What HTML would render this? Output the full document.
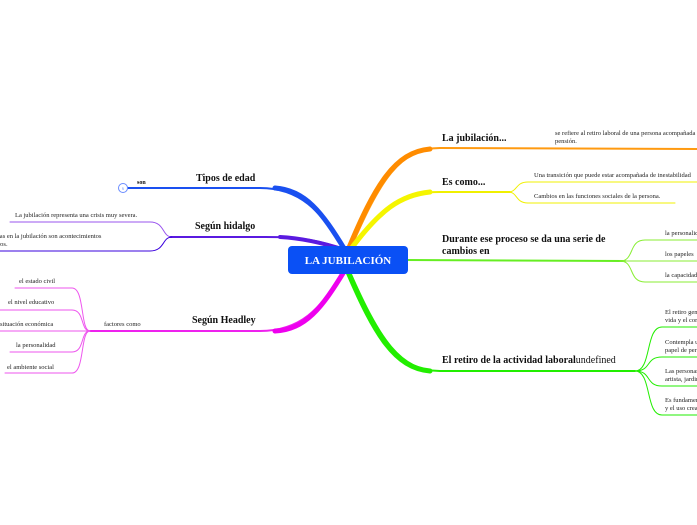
<!DOCTYPE html>
<html><head><meta charset="utf-8"><style>
body{margin:0;width:697px;height:520px;overflow:hidden;background:#fff;}
svg text{font-family:"Liberation Serif",serif;}
.b{font-weight:bold;font-size:10px;fill:#111;}
.s{font-size:6.5px;fill:#222;}
</style></head><body>
<svg width="697" height="520" viewBox="0 0 697 520" xmlns="http://www.w3.org/2000/svg">
<g fill="none" stroke-linecap="round">
<!-- orange -->
<path d="M350 250 C380 180 400 148 440 148 L697 149" stroke="#ff9a10" stroke-width="2"/>
<path d="M348 250 C375 185 395 152 430 149" stroke="#ff8c00" stroke-width="5"/>
<!-- yellow -->
<path d="M352 250 C385 205 405 192 440 192 L510 192" stroke="#f0f000" stroke-width="2"/>
<path d="M350 250 C380 210 400 195 430 192" stroke="#f5f500" stroke-width="5"/>
<path d="M508 192 C518 192 515 182 528 182 L697 182" stroke="#f0f000" stroke-width="1"/>
<path d="M508 192 C518 192 515 203 528 203 L675 203" stroke="#f0f000" stroke-width="1"/>
<!-- green durante -->
<path d="M405 260 L625 261" stroke="#66ee22" stroke-width="2"/>
<path d="M620 261 C635 261 628 240 645 240 L697 240" stroke="#88ee33" stroke-width="1"/>
<path d="M620 261 L697 261" stroke="#88ee33" stroke-width="1"/>
<path d="M620 261 C635 261 628 282 645 282 L697 282" stroke="#88ee33" stroke-width="1"/>
<!-- green retiro -->
<path d="M350 272 C380 340 400 371 440 371 L635 371" stroke="#22ee00" stroke-width="2"/>
<path d="M348 272 C375 335 395 368 430 371" stroke="#22ee00" stroke-width="5"/>
<path d="M635 371 C652 371 645 327 662 327 L697 327" stroke="#22ee00" stroke-width="1"/>
<path d="M635 371 C652 371 645 357 662 357 L697 357" stroke="#22ee00" stroke-width="1"/>
<path d="M635 371 C652 371 645 386 662 386 L697 386" stroke="#22ee00" stroke-width="1"/>
<path d="M635 371 C652 371 645 415 662 415 L697 415" stroke="#22ee00" stroke-width="1"/>
<!-- blue left -->
<path d="M345 250 C320 210 300 188 260 188 L128 188" stroke="#1a50f0" stroke-width="2"/>
<path d="M345 250 C322 212 305 190 275 188" stroke="#1a50f0" stroke-width="5"/>
<circle cx="123" cy="188" r="4.5" fill="#fff" stroke="#6a8cff" stroke-width="1"/>
<!-- purple -->
<path d="M345 250 C320 240 300 237 265 237 L170 237" stroke="#5a1ae0" stroke-width="2"/>
<path d="M345 250 C320 242 300 238 280 237" stroke="#5a1ae0" stroke-width="4"/>
<path d="M172 237 C162 237 165 222 150 222 L10 222" stroke="#9a55ee" stroke-width="1"/>
<path d="M172 237 C162 237 165 251 150 251 L0 251" stroke="#3a00dd" stroke-width="1"/>
<!-- magenta -->
<path d="M345 270 C320 310 300 331 260 331 L90 331" stroke="#ee22ee" stroke-width="2"/>
<path d="M345 270 C322 308 305 330 275 331" stroke="#ee00ee" stroke-width="5"/>
<path d="M90 331 C80 331 85 288 72 288 L15 288" stroke="#ee55ee" stroke-width="1"/>
<path d="M90 331 C80 331 85 310 72 310 L0 310" stroke="#ee55ee" stroke-width="1"/>
<path d="M90 331 L0 331" stroke="#ee55ee" stroke-width="1"/>
<path d="M90 331 C80 331 85 352 72 352 L10 352" stroke="#ee55ee" stroke-width="1"/>
<path d="M90 331 C80 331 85 373 72 373 L5 373" stroke="#ee55ee" stroke-width="1"/>
</g>
<rect x="288" y="246" width="120" height="28" rx="4" fill="#0a50f5"/>
<text x="348" y="264" text-anchor="middle" font-weight="bold" font-size="11" fill="#fff">LA JUBILACIÓN</text>

<text class="b" x="442" y="141">La jubilación...</text>
<text class="s" x="555" y="135">se refiere al retiro laboral de una persona acompañada de una</text>
<text class="s" x="555" y="143">pensión.</text>
<text class="b" x="442" y="185">Es como...</text>
<text class="s" x="534" y="177">Una transición que puede estar acompañada de inestabilidad</text>
<text class="s" x="534" y="198">Cambios en las funciones sociales de la persona.</text>
<text class="b" x="442" y="242">Durante ese proceso se da una serie de</text>
<text class="b" x="442" y="254">cambios en</text>
<text class="s" x="665" y="235">la personalidad</text>
<text class="s" x="665" y="256">los papeles</text>
<text class="s" x="665" y="277">la capacidad</text>
<text x="442" y="363" font-size="10" fill="#111"><tspan font-weight="bold">El retiro de la actividad laboral</tspan>undefined</text>
<text class="s" x="665" y="314">El retiro genera</text><text class="s" x="665" y="322">vida y el control</text>
<text class="s" x="665" y="344">Contempla un</text><text class="s" x="665" y="352">papel de persona</text>
<text class="s" x="665" y="373">Las personas</text><text class="s" x="665" y="381">artista, jardinero</text>
<text class="s" x="665" y="402">Es fundamental</text><text class="s" x="665" y="410">y el uso creativo</text>

<text class="b" x="196" y="181">Tipos de edad</text>
<text x="137" y="184" font-size="6" font-weight="bold" fill="#111">son</text>
<text x="123" y="190" font-size="4" fill="#6a8cff" text-anchor="middle">6</text>
<text class="b" x="195" y="229">Según hidalgo</text>
<text class="s" x="15" y="217">La jubilación representa una crisis muy severa.</text>
<text class="s" x="-2" y="238">las en la jubilación son acontecimientos</text>
<text class="s" x="-2" y="246">ros.</text>
<text class="b" x="192" y="323">Según Headley</text>
<text class="s" x="104" y="326">factores como</text>
<text class="s" x="19" y="283">el estado civil</text>
<text class="s" x="8" y="304">el nivel educativo</text>
<text class="s" x="0" y="326">situación económica</text>
<text class="s" x="16" y="347">la personalidad</text>
<text class="s" x="7" y="369">el ambiente social</text>
</svg>
</body></html>
